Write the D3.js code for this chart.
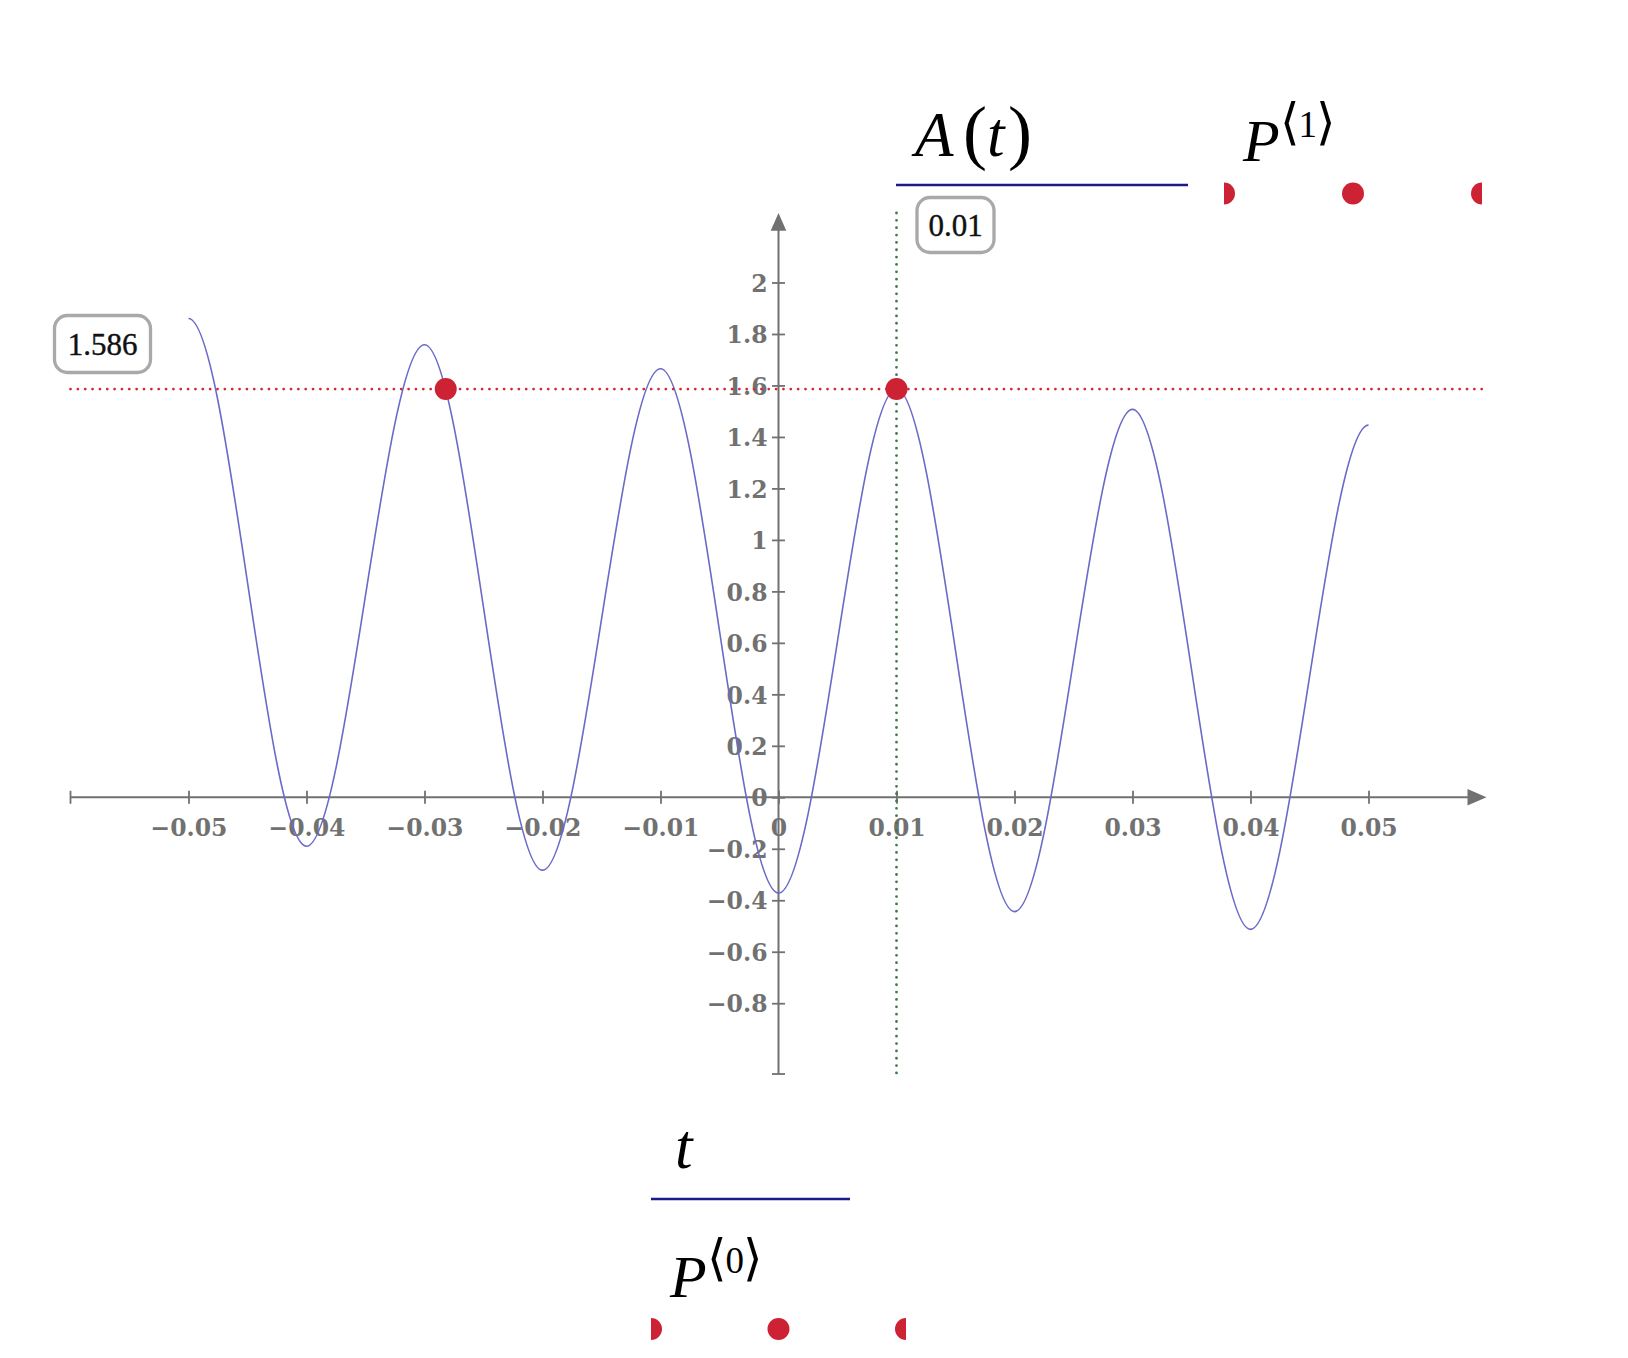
<!DOCTYPE html>
<html>
<head>
<meta charset="utf-8">
<script src="https://cdn.jsdelivr.net/npm/d3@7"></script>
<style>
  body { margin: 0; background: #fff; }
  svg { display: block; }
</style>
</head>
<body>
<div id="chart-area"></div>
<script>

// values
var tDomain = [-0.06, 0.06];
var aDomain = [-1.075, 2.27];

var tTicks = [-0.05, -0.04, -0.03, -0.02, -0.01, 0, 0.01, 0.02, 0.03, 0.04, 0.05];
var aTicks = [-0.8, -0.6, -0.4, -0.2, 0, 0.2, 0.4, 0.6, 0.8, 1, 1.2, 1.4, 1.6, 1.8, 2];

// peaks and troughs of A(t)
var curveT = [-0.05, -0.04, -0.03, -0.02, -0.01, 0, 0.01, 0.02, 0.03, 0.04, 0.05];
var curveA = [1.86, -0.19, 1.758, -0.283, 1.665, -0.372, 1.586, -0.444, 1.507, -0.513, 1.446];

// P points (where the trace meets the level)
var pointT = [-0.0282, 0.01];
var pointA = [1.586, 1.586];

var cursorT = 0.01;
var cursorA = 1.586;

var total_width = 1628;
var total_height = 1358;

var svg = d3.select('#chart-area').append('svg')
            .attr("width", total_width)
            .attr("height", total_height);

var x = d3.scaleLinear().domain(tDomain).range([70.5, 1486.5]);
var y = d3.scaleLinear().domain(aDomain).range([1074, 213]);

var axisColor = "#717171";
var fmt = d3.format("~g");
var tickFont = "'DejaVu Serif', serif";

var chart = svg.append('g');

// x axis
var xAxis = d3.axisBottom(x).tickValues(tTicks).tickFormat(fmt).tickSizeOuter(0);
var gx = chart.append('g').attr("class", "axis")
              .attr("transform", "translate(0," + y(0) + ")")
              .call(xAxis);
gx.select(".domain").remove();
gx.selectAll(".tick line").attr("y1", -6.5).attr("y2", 6.5)
  .attr("stroke", axisColor).attr("stroke-width", 1.8);
gx.selectAll(".tick text").attr("y", 38.3).attr("dy", 0)
  .attr("fill", axisColor)
  .attr("font-family", tickFont).attr("font-weight", "bold").attr("font-size", "23.5px");

chart.append("line")
     .attr("x1", x(tDomain[0])).attr("x2", x(tDomain[1]) - 14)
     .attr("y1", y(0)).attr("y2", y(0))
     .attr("stroke", axisColor).attr("stroke-width", 2);
chart.append("line")
     .attr("x1", x(tDomain[0])).attr("x2", x(tDomain[0]))
     .attr("y1", y(0) - 6.5).attr("y2", y(0) + 6.5)
     .attr("stroke", axisColor).attr("stroke-width", 1.8);
chart.append("path")
     .attr("d", "M" + x(tDomain[1]) + "," + y(0) + "l-19,-8.3l0,16.6z")
     .attr("fill", axisColor);

// y axis
var yAxis = d3.axisLeft(y).tickValues(aTicks).tickFormat(fmt).tickSizeOuter(0);
var gy = chart.append('g').attr("class", "axis")
              .attr("transform", "translate(" + x(0) + ",0)")
              .call(yAxis);
gy.select(".domain").remove();
gy.selectAll(".tick line").attr("x1", -6.5).attr("x2", 6.5)
  .attr("stroke", axisColor).attr("stroke-width", 1.8);
gy.selectAll(".tick text").attr("x", -11).attr("dy", "0.37em")
  .attr("fill", axisColor)
  .attr("font-family", tickFont).attr("font-weight", "bold").attr("font-size", "23.5px");

chart.append("line")
     .attr("x1", x(0)).attr("x2", x(0))
     .attr("y1", y(aDomain[0])).attr("y2", y(aDomain[1]) + 14)
     .attr("stroke", axisColor).attr("stroke-width", 2);
chart.append("line")
     .attr("x1", x(0) - 6.5).attr("x2", x(0) + 6.5)
     .attr("y1", y(aDomain[0])).attr("y2", y(aDomain[0]))
     .attr("stroke", axisColor).attr("stroke-width", 1.8);
chart.append("path")
     .attr("d", "M" + x(0) + "," + y(aDomain[1]) + "l-7.8,17.7l15.6,0z")
     .attr("fill", axisColor);

// curve with a flat tangent at every extremum (ends too)
function curveFlat(context){
  var x0, y0, started;
  return {
    areaStart: function(){}, areaEnd: function(){},
    lineStart: function(){ started = false; },
    lineEnd: function(){},
    point: function(px, py){
      if (!started) { context.moveTo(px, py); started = true; }
      else {
        var h = (px - x0) / 3;
        context.bezierCurveTo(x0 + h, y0, px - h, py, px, py);
      }
      x0 = px; y0 = py;
    }
  };
}

var curveData = curveT.map(function(t, i){ return {t: t, a: curveA[i]}; });
var lineFunction = d3.line()
                     .x(function(d){ return x(d.t); })
                     .y(function(d){ return y(d.a); })
                     .curve(curveFlat);

chart.append("path")
     .datum(curveData)
     .attr("d", lineFunction)
     .attr("fill", "none")
     .attr("stroke", "#6a6ac8")
     .attr("stroke-width", 1.6);

// cursor lines
chart.append("line")
     .attr("x1", x(tDomain[0])).attr("x2", x(tDomain[1]) + 2)
     .attr("y1", y(cursorA)).attr("y2", y(cursorA))
     .attr("stroke", "#d3283a").attr("stroke-width", 2.8)
     .attr("stroke-linecap", "round").attr("stroke-dasharray", "0 7.35");
chart.append("line")
     .attr("x1", x(cursorT)).attr("x2", x(cursorT))
     .attr("y1", y(aDomain[1])).attr("y2", y(aDomain[0]))
     .attr("stroke", "#3b7a4c").attr("stroke-width", 2.8)
     .attr("stroke-linecap", "round").attr("stroke-dasharray", "0 7.35");

// points
chart.selectAll("circle.pt")
     .data(pointT).enter().append("circle")
     .attr("class", "pt")
     .attr("cx", function(d){ return x(d); })
     .attr("cy", function(d, i){ return y(pointA[i]); })
     .attr("r", 11)
     .attr("fill", "#cc2233");

// readout boxes
function readout(cx, cy, w, h, label){
  chart.append("rect")
       .attr("x", cx - w / 2).attr("y", cy - h / 2)
       .attr("width", w).attr("height", h)
       .attr("rx", 13).attr("ry", 13)
       .attr("fill", "#fff")
       .attr("stroke", "#a9a9a9").attr("stroke-width", 3.3);
  chart.append("text")
       .attr("x", cx).attr("y", cy + 10.5)
       .attr("text-anchor", "middle")
       .attr("font-family", "'Liberation Serif', serif")
       .attr("font-size", "31px")
       .attr("stroke", "#111").attr("stroke-width", 0.4)
       .attr("fill", "#111")
       .text(label);
}
readout(102.5, 344, 96, 57, d3.format(".3f")(cursorA));
readout(955.5, 225, 77, 55, fmt(cursorT));

// legends
var mathFont = "'Liberation Serif', 'DejaVu Serif', serif";
var navy = "#1a1a8a";
var defs = svg.append("defs");

function pointLegend(cx0, step, cy, name){
  var id = "clip" + name;
  defs.append("clipPath").attr("id", id)
      .append("rect")
      .attr("x", cx0).attr("y", cy - 14)
      .attr("width", step * 2).attr("height", 28);
  svg.append("g").attr("clip-path", "url(#" + id + ")")
     .selectAll("circle").data([0, 1, 2]).enter().append("circle")
     .attr("cx", function(d){ return cx0 + d * step; })
     .attr("cy", cy)
     .attr("r", 11)
     .attr("fill", "#cc2233");
}

function pLabel(px, base, index){
  var txt = svg.append("text")
               .attr("font-family", mathFont)
               .attr("fill", "#000");
  txt.append("tspan").attr("x", px).attr("y", base)
     .attr("font-style", "italic").attr("font-size", "60px").text("P");
  txt.append("tspan").attr("x", px + 37).attr("y", base - 22)
     .attr("font-size", "50px").text("\u27E8");
  txt.append("tspan").attr("dx", -1).attr("y", base - 24)
     .attr("font-size", "37px").text(index);
  txt.append("tspan").attr("dx", -1).attr("y", base - 22)
     .attr("font-size", "50px").text("\u27E9");
}

// y trace legend : A(t)
var at = svg.append("text").attr("font-family", mathFont).attr("fill", "#000");
at.append("tspan").attr("x", 915).attr("y", 156)
  .attr("font-style", "italic").attr("font-size", "63px").text("A");
at.append("tspan").attr("x", 963).attr("y", 156)
  .attr("font-size", "72px").text("(");
at.append("tspan").attr("x", 987).attr("y", 156)
  .attr("font-style", "italic").attr("font-size", "63px").text("t");
at.append("tspan").attr("x", 1008).attr("y", 156)
  .attr("font-size", "72px").text(")");
svg.append("line")
   .attr("x1", 896).attr("x2", 1188).attr("y1", 185).attr("y2", 185)
   .attr("stroke", navy).attr("stroke-width", 2.5);

pLabel(1243, 161, 1);
pointLegend(1224, 129, 193.5, "top");

// x legend : t
svg.append("text")
   .attr("x", 675).attr("y", 1168)
   .attr("font-family", mathFont).attr("font-style", "italic")
   .attr("font-size", "63px").text("t");
svg.append("line")
   .attr("x1", 651).attr("x2", 850).attr("y1", 1199).attr("y2", 1199)
   .attr("stroke", navy).attr("stroke-width", 2.5);

pLabel(670, 1297, 0);
pointLegend(651, 127.5, 1329, "bottom");

</script>
</body>
</html>
